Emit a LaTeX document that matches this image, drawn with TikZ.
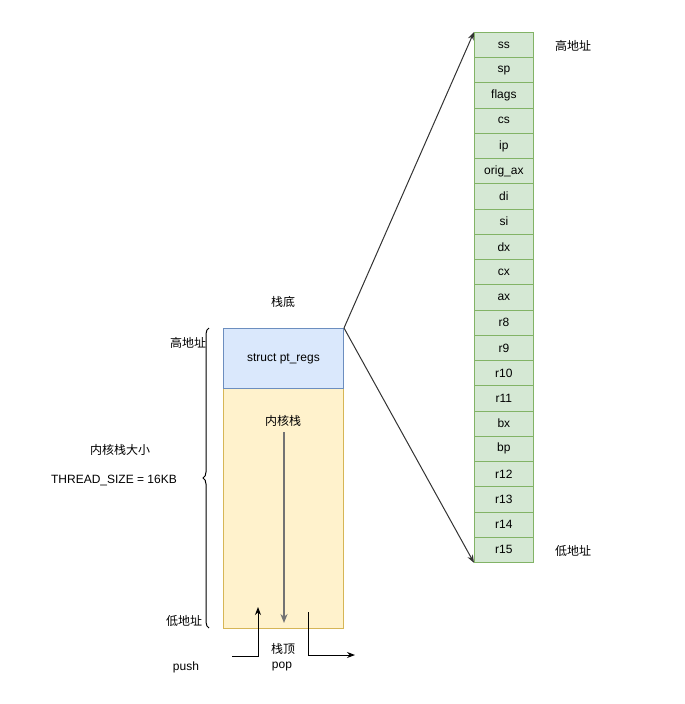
\documentclass[tikz,border=0pt]{standalone}
\usepackage{fontspec}
\setmainfont{Liberation Sans}
\newfontfamily\cjk{Noto Sans CJK SC}
\usetikzlibrary{decorations.pathreplacing,arrows.meta}
\begin{document}
\begin{tikzpicture}[x=1pt,y=-1pt,font=\fontsize{12}{14}\selectfont,line width=1pt,
  reg/.style={minimum width=59pt,minimum height=25.24pt,inner sep=0,anchor=north west},
  conn/.style={draw=black!80,-{Stealth[length=8pt,width=6pt]}}]
\useasboundingbox (0,0) rectangle (685,704);
\definecolor{bluef}{HTML}{DAE8FC}\definecolor{bluel}{HTML}{6C8EBF}
\definecolor{yelf}{HTML}{FFF2CC}\definecolor{yell}{HTML}{D6B656}
\definecolor{grf}{HTML}{D5E8D4}\definecolor{grl}{HTML}{82B366}
\tikzset{reg/.append style={draw=grl,fill=grf,line width=0.8pt}}
\node[draw=yell,fill=yelf,minimum width=120pt,minimum height=240pt,inner sep=0,anchor=north west] (stack) at (223,388) {};
\node[draw=bluel,fill=bluef,minimum width=120pt,minimum height=60pt,inner sep=0,anchor=north west] (regs) at (223,328) {struct pt\_regs};
\foreach \n [count=\i from 0] in {ss,sp,flags,cs,ip,orig\_ax,di,si,dx,cx,ax,r8,r9,r10,r11,bx,bp,r12,r13,r14,r15}
  \node[reg] (r\i) at (474,32+25.24*\i) {\n};
\node (hi) at (573,46) {\cjk 高地址};
\node (lo) at (573,551) {\cjk 低地址};
\node (bottom) at (283,302) {\cjk 栈底};
\node (hi2) at (188,343) {\cjk 高地址};
\node (lo2) at (184,621) {\cjk 低地址};
\node (size1) at (120,450) {\cjk 内核栈大小};
\node (size2) at (114,480) {THREAD\_SIZE = 16KB};
\node (kst) at (283,421) {\cjk 内核栈};
\node (top) at (283,649) {\cjk 栈顶};
\node (pop) at (282,667) {pop};
\node (push) at (186,667) {push};
\draw[decorate,decoration={brace,amplitude=6pt}] (209,628) -- (209,328);
\draw[conn] (regs.north east) -- (r0.north west);
\draw[conn] (regs.north east) -- (r20.south west);
\draw[-{Stealth[length=9pt,width=7pt]},draw=black!55,line width=1.5pt] (284,432) -- (284,623);
\coordinate (pushs) at (232,656);
\draw[conn,black] (pushs) -| (258,607);
\coordinate (pops) at (308,612);
\draw[conn,black] (pops) |- (355,655);
\end{tikzpicture}
\end{document}
